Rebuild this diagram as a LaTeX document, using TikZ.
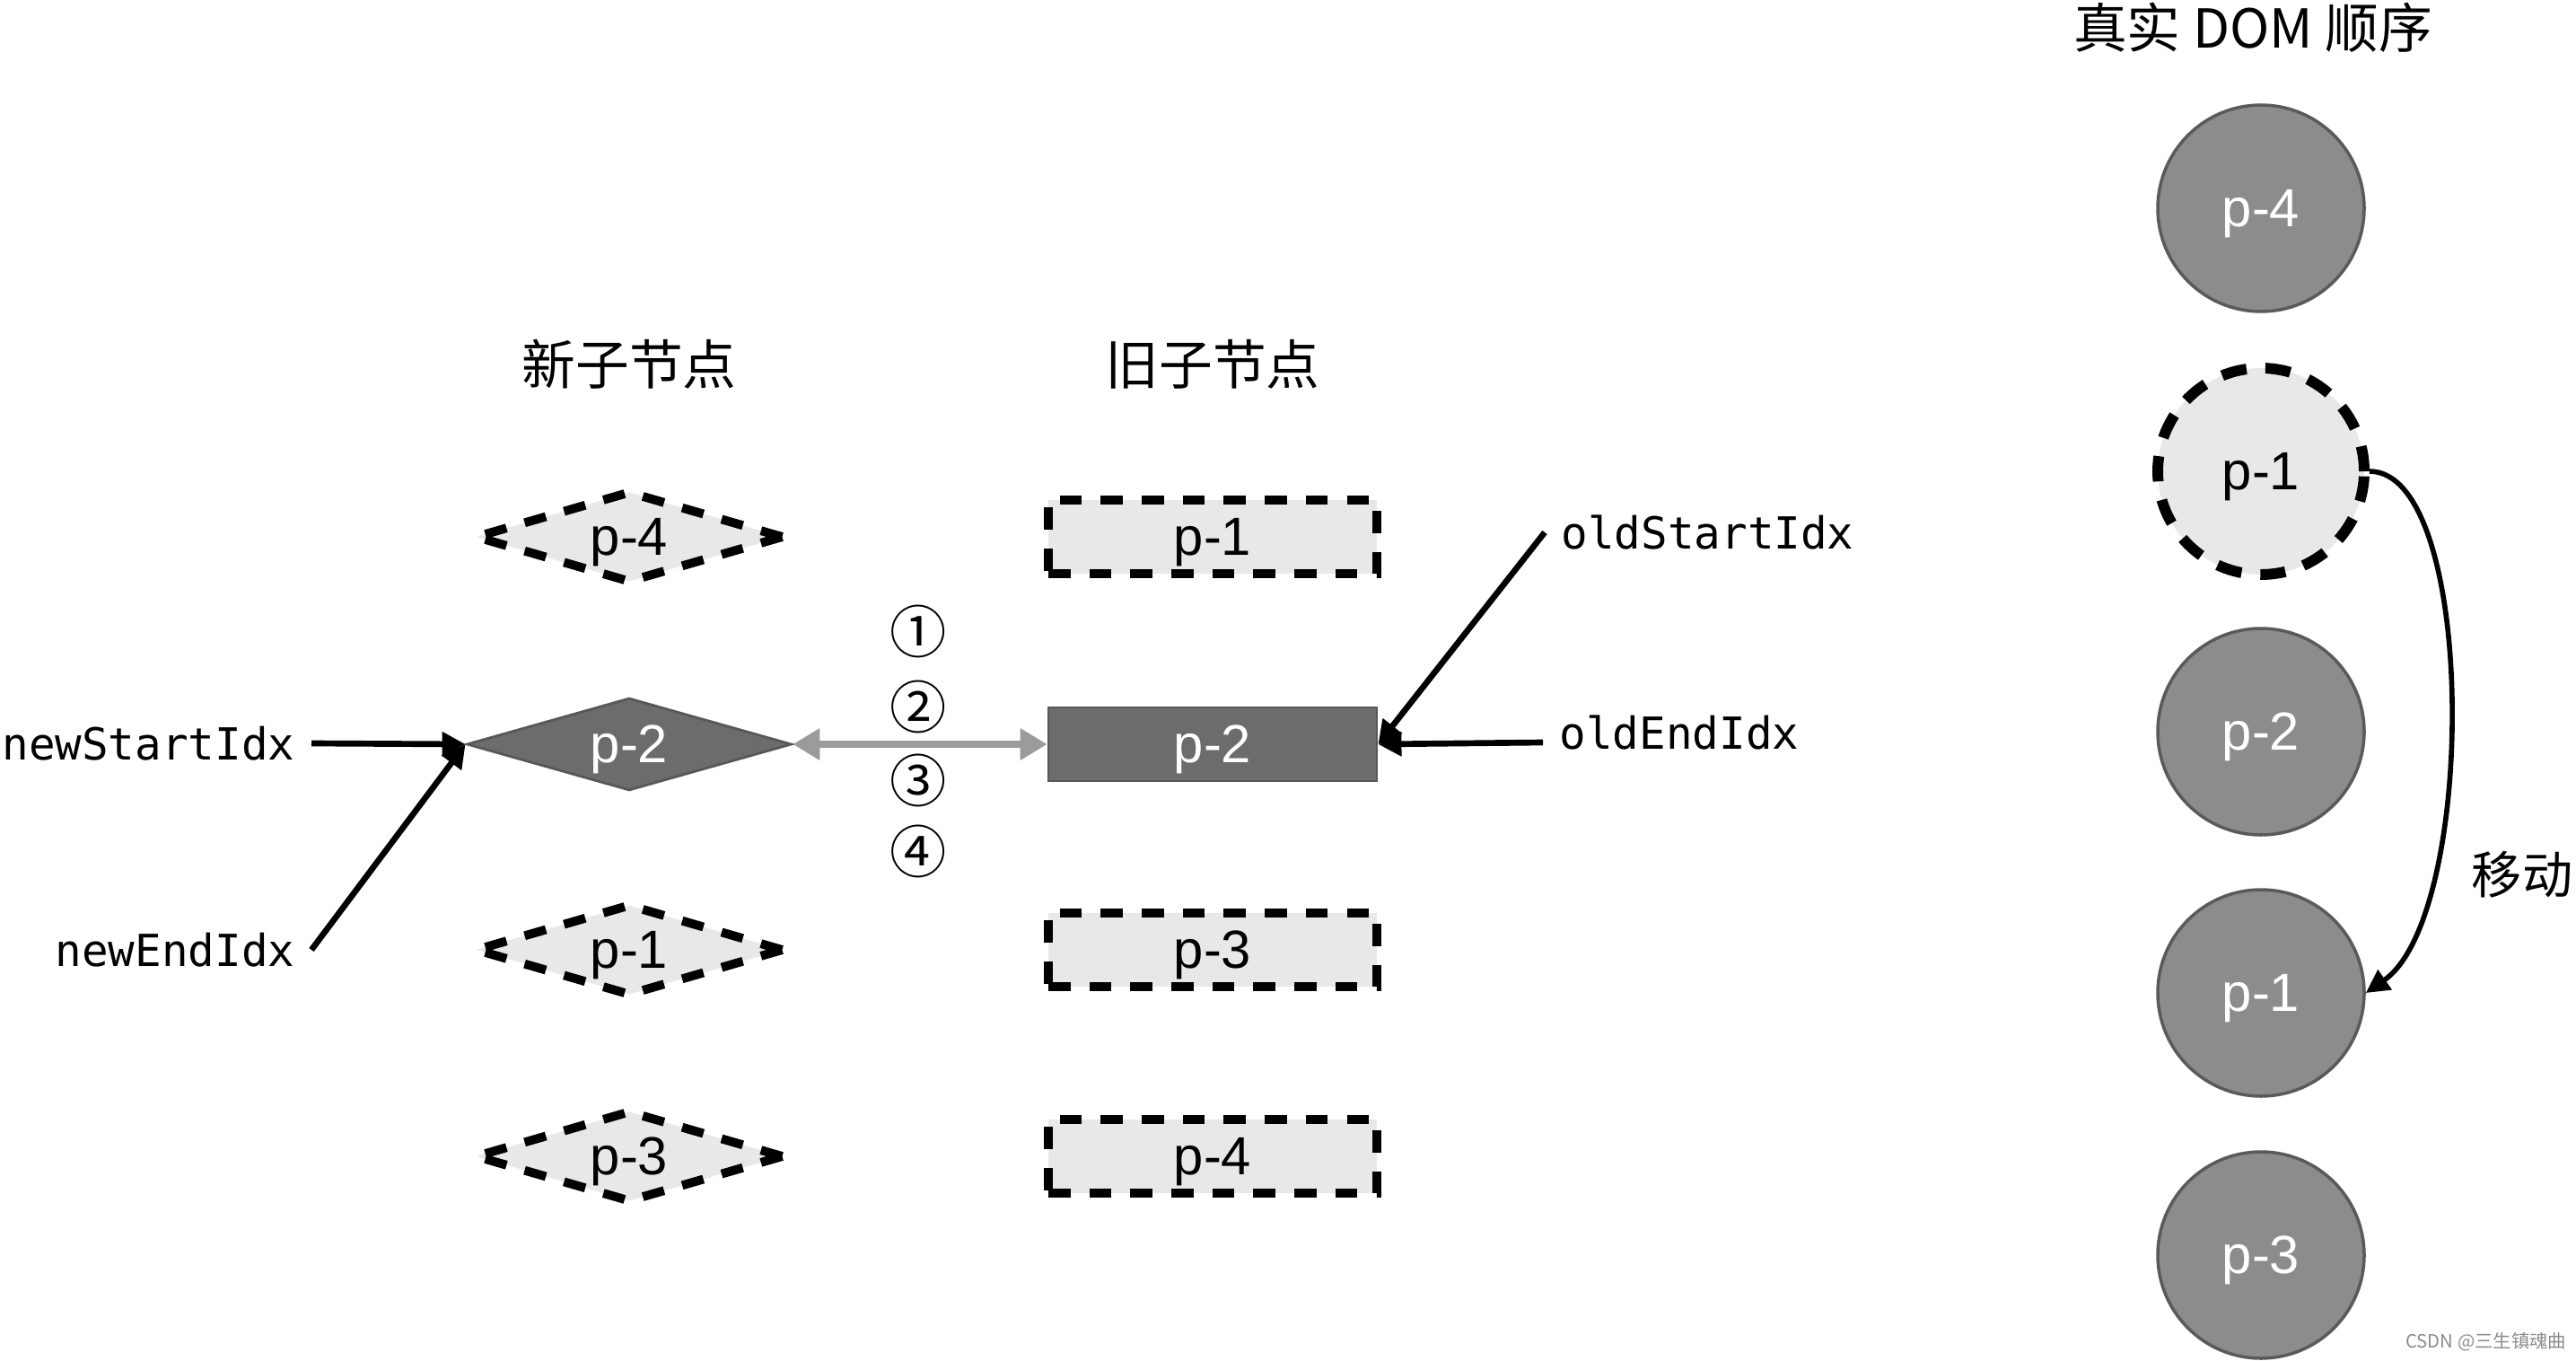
\documentclass[tikz,border=0pt]{standalone}
\usepackage{fontspec}
\setmainfont{Liberation Sans}
\setmonofont{DejaVu Sans Mono}
\newfontfamily\cjk{Noto Sans CJK SC}
\usetikzlibrary{positioning,shapes.geometric,arrows.meta}
\definecolor{lightfill}{RGB}{232,232,232}
\definecolor{darkfill}{RGB}{108,108,108}
\definecolor{darkline}{RGB}{88,88,88}
\definecolor{domfill}{RGB}{140,140,140}
\definecolor{domline}{RGB}{90,90,90}
\definecolor{cmpline}{RGB}{155,155,155}

\begin{document}
\begin{tikzpicture}[
  lbl/.style={font=\fontsize{17}{20}\selectfont, text depth=0pt},
  head/.style={font=\cjk\fontsize{17}{20}\selectfont},
  idx/.style={font=\ttfamily\fontsize{14}{16}\selectfont, inner xsep=0.18cm, inner ysep=1pt},
  newnd/.style={diamond, aspect=3.4, minimum width=3.45cm, minimum height=1.03cm, inner sep=0pt, lbl},
  oldnd/.style={rectangle, minimum width=3.66cm, minimum height=0.82cm, inner sep=0pt, lbl},
  ghost/.style={fill=lightfill, draw=black, line width=2.8pt, dash pattern=on 7pt off 6pt},
  hit/.style={fill=darkfill, draw=darkline, line width=0.8pt, text=white},
  domnd/.style={circle, minimum size=2.3cm, inner sep=0pt, lbl, fill=domfill, draw=domline, line width=1pt, text=white},
  num/.style={font=\cjk\fontsize{18}{20}\selectfont, inner sep=0pt},
  arr/.style={-{Triangle[length=2.6mm, width=2.6mm]}, line width=1.9pt}
]
\useasboundingbox (0,0) rectangle (28.7,-15.16);
% ---- new children ----
\node[head] (newhd) at (7.01,-4.06) {新子节点};
\foreach \i/\nm/\y in {1/p-4/-5.98, 3/p-1/-10.58, 4/p-3/-12.88}{
  \node[newnd, ghost] (n\i) at (7.01,\y) {\nm};
}
\node[newnd, hit, minimum width=3.62cm] (n2) at (7.01,-8.29) {p-2};
% ---- old children ----
\node[head] (oldhd) at (13.51,-4.06) {旧子节点};
\foreach \i/\nm/\y in {1/p-1/-5.98, 3/p-3/-10.58, 4/p-4/-12.88}{
  \node[oldnd, ghost] (o\i) at (13.51,\y) {\nm};
}
\node[oldnd, hit] (o2) at (13.51,-8.29) {p-2};
% ---- compare steps ----
\foreach \i/\c/\y in {1/①/-7.03, 2/②/-7.87, 3/③/-8.69, 4/④/-9.48}{
  \node[num] (c\i) at (10.23,\y) {\c};
}
\draw[{Triangle[length=3mm, width=3.4mm]}-{Triangle[length=3mm, width=3.4mm]},
      cmpline, line width=2pt] (n2.east) -- (o2.west);
% ---- index pointers ----
\node[idx, anchor=east] (nsi) at (3.47,-8.28) {newStartIdx};
\node[idx, anchor=east] (nei) at (3.47,-10.58) {newEndIdx};
\node[idx, anchor=west] (osi) at (17.21,-5.93) {oldStartIdx};
\node[idx, anchor=west] (oei) at (17.19,-8.16) {oldEndIdx};
\draw[arr] (nsi.east) -- (n2.west);
\draw[arr] (nei.east) -- (n2.west);
\draw[arr] (osi.west) -- (o2.east);
\draw[arr] ([yshift=-0.11cm]oei.west) -- (o2.east);
% ---- real DOM order ----
\node[head] (domhd) at (25.10,-0.31) {真实 DOM 顺序};
\foreach \i/\nm/\y in {1/p-4/-2.32, 3/p-2/-8.15, 4/p-1/-11.06, 5/p-3/-13.98}{
  \node[domnd] (d\i) at (25.19,\y) {\nm};
}
\node[domnd, fill=lightfill, draw=black, text=black, line width=3.4pt,
      dash pattern=on 8pt off 6pt] (d2) at (25.19,-5.25) {p-1};
\draw[arr, line width=1.6pt] (d2.east) .. controls (27.6,-5.25) and (27.6,-10.2) .. (d4.east);
\node[head, font=\cjk\fontsize{16}{18}\selectfont] (mv) at (28.10,-9.74) {移动};
\node[text=black!45, font=\cjk\fontsize{5.8}{7}\selectfont, anchor=east, inner sep=0pt]
      (wm) at (28.6,-14.95) {CSDN @三生镇魂曲};
\end{tikzpicture}
\end{document}
